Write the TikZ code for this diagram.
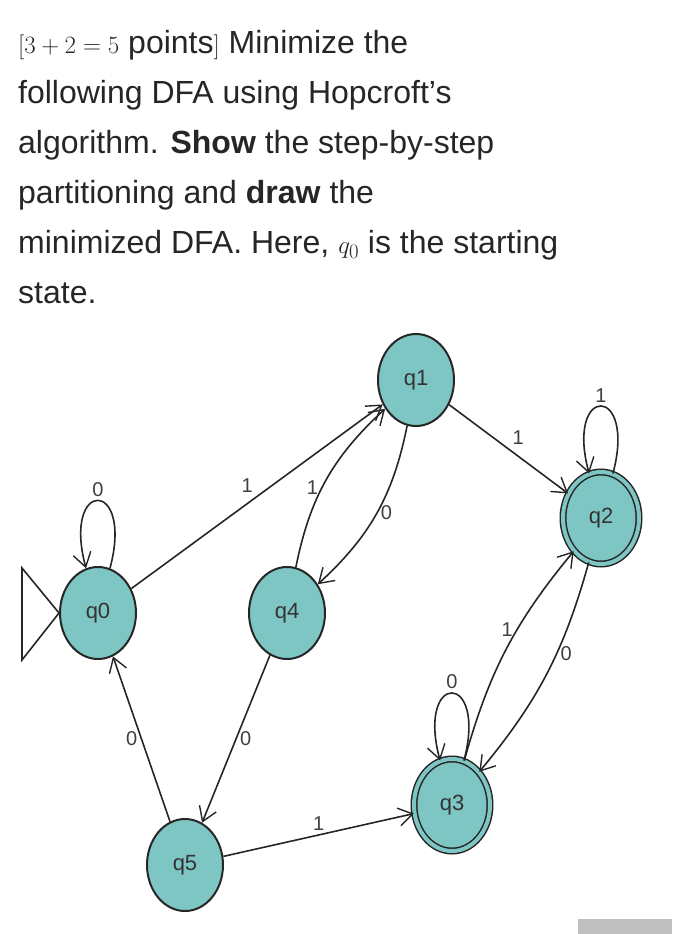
\documentclass[tikz,border=0pt]{standalone}
\usepackage{fontspec}
\setmainfont{Liberation Sans}
\usetikzlibrary{arrows.meta,shapes.geometric}
\definecolor{nodefill}{RGB}{126,198,196}
\begin{document}
\begin{tikzpicture}[x=1pt,y=-1pt,
  st/.style={ellipse,draw=black!85,line width=2pt,fill=nodefill,minimum width=76pt,minimum height=92pt,inner sep=0pt,font=\fontsize{22}{22}\selectfont,text=black!80},
  acc/.style={st,double=nodefill,double distance=4pt,line width=1.5pt},
  ed/.style={draw=black!85,line width=1.6pt,-{Straight Barb[length=14pt,width=18pt,line width=1.4pt]}},
  lb/.style={font=\fontsize{20}{20}\selectfont,text=black!75}]
\useasboundingbox (0,0) rectangle (672,934);
\fill[black!25] (578,919) rectangle (672,934);
\node[anchor=west,align=left,font=\fontsize{32}{50}\selectfont,text=black!85,inner sep=0pt] (t) at (18,167) {$[3+2=5\ \mathrm{points}]$ Minimize the\\ following DFA using Hopcroft's\\ algorithm. \textbf{Show} the step-by-step\\ partitioning and \textbf{draw} the\\ minimized DFA. Here, $q_0$ is the starting\\ state.};
\node[st] (q1) at (416,380) {q1};
\node[st] (q0) at (98,613) {q0};
\node[st] (q4) at (287,613) {q4};
\node[acc] (q2) at (601,518) {q2};
\node[acc] (q3) at (452,805) {q3};
\node[st] (q5) at (185,865) {q5};
\draw[line width=1.6pt,black!85] (q0.west) -- (22,568) -- (22,660) -- cycle;
\draw[ed] (q0) -- node[lb,above left,pos=0.5]{1} (q1);
\draw[ed] (q4) to[bend left=18] node[lb,left,pos=0.45]{1} (q1);
\draw[ed] (q1) to[bend left=18] node[lb,right,pos=0.5]{0} (q4);
\draw[ed] (q1) -- node[lb,above right]{1} (q2);
\draw[ed] (q3) to[bend left=12] node[lb,left,pos=0.6]{1} (q2);
\draw[ed] (q2) to[bend left=12] node[lb,right,pos=0.4]{0} (q3);
\draw[ed] (q5) -- node[lb,left]{0} (q0);
\draw[ed] (q4) -- node[lb,right]{0} (q5);
\draw[ed] (q5) -- node[lb,above]{1} (q3);
\draw[ed] (q0) to[out=75,in=105,looseness=10] node[lb,above]{0} (q0);
\draw[ed] (q2) to[out=75,in=105,looseness=10] node[lb,above]{1} (q2);
\draw[ed] (q3) to[out=75,in=105,looseness=10] node[lb,above]{0} (q3);
\end{tikzpicture}
\end{document}
